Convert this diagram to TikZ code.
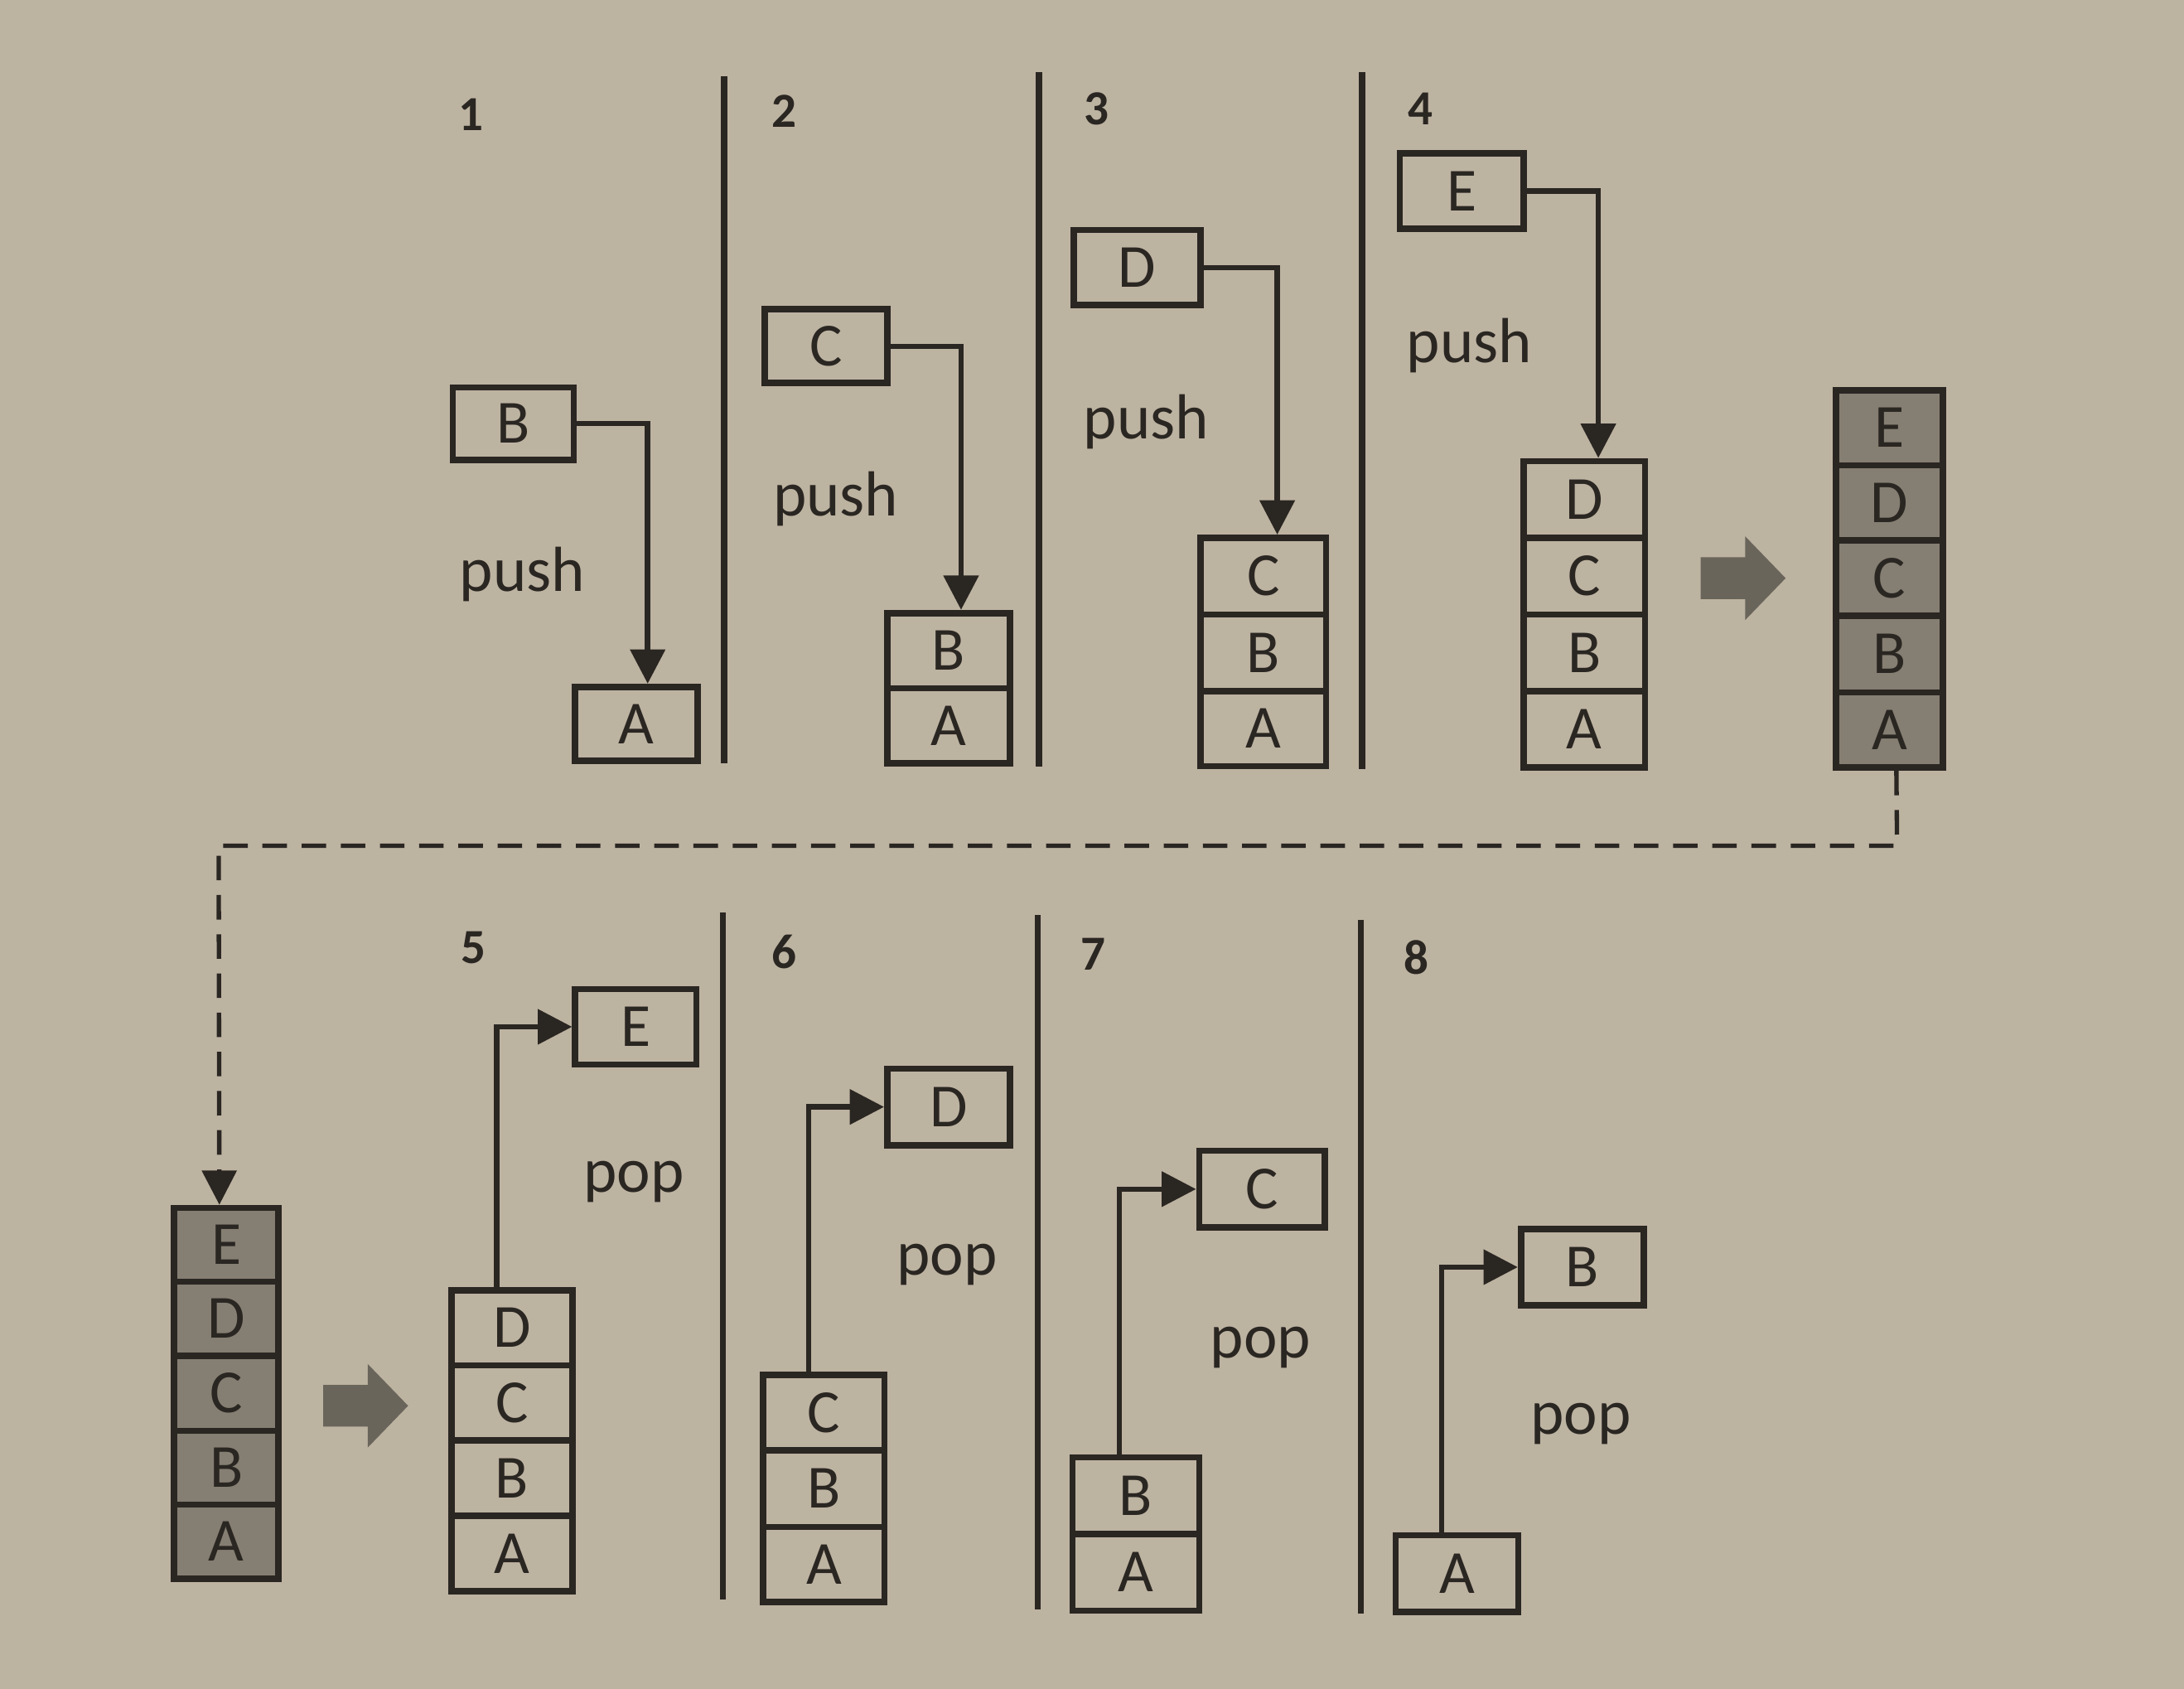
\documentclass[tikz,border=0pt]{standalone}
\usepackage{fontspec}
\setmainfont{Carlito}
\usetikzlibrary{arrows.meta}
\definecolor{bg}{HTML}{BDB3A1}
\definecolor{ink}{HTML}{2A2622}
\definecolor{gfill}{HTML}{857E72}
\tikzset{
 bx/.style={draw=ink,line width=1.3pt,inner sep=0pt,font=\fontsize{12.5}{12.5}\selectfont,text=ink},
 gbx/.style={bx,fill=gfill},
 arr/.style={draw=ink,line width=1.1pt,-{Triangle[length=7pt,width=7pt]}},
 lbl/.style={font=\fontsize{13}{13}\selectfont,text=ink},
 num/.style={font=\bfseries\fontsize{10}{10}\selectfont,text=ink},
 divline/.style={draw=ink,line width=1.3pt},
 bigarr/.style={fill=gfill!80!black,draw=none}
}
\newcommand\bx[7][bx]{\node[#1,minimum width={(#4-#3)*0.01cm},minimum height={(#6-#5)*0.01cm}] (#2) at ({(#3+#4)/2},{(#5+#6)/2}) {#7};}
\newcommand\bigarrow[2]{\fill[bigarr] (#1,#2-15)--(#1+32,#2-15)--(#1+32,#2-30)--(#1+61,#2)--(#1+32,#2+30)--(#1+32,#2+15)--(#1,#2+15)--cycle;}
\begin{document}
\begin{tikzpicture}[x=0.01cm,y=-0.01cm]
\fill[bg] (0,0) rectangle (1568,1212);
\useasboundingbox (0,0) rectangle (1568,1212);
% dividers
\draw[divline] (520,55)--(520,548) (746,52)--(746,550) (978,52)--(978,552);
\draw[divline] (519,655)--(519,1148) (745,657)--(745,1155) (977,660)--(977,1158);
% panel 1
\node[num] (n1) at (338,82) {1};
\bx{p1B}{325}{412}{278}{330}{B}
\bx{p1A}{413}{501}{493}{546}{A}
\node[lbl] (l1) at (375,412) {push};
\draw[arr] (p1B.east) -| ([xshift=0.08cm]p1A.north);
% panel 2
\node[num] (n2) at (563,80) {2};
\bx{p2C}{549}{637}{222}{275}{C}
\bx{p2B}{637}{725}{440}{494}{B}
\bx{p2A}{637}{725}{494}{548}{A}
\node[lbl] (l2) at (600,358) {push};
\draw[arr] (p2C.east) -| ([xshift=0.09cm]p2B.north);
% panel 3
\node[num] (n3) at (787,78) {3};
\bx{p3D}{771}{862}{165}{219}{D}
\bx{p3C}{862}{952}{386}{441}{C}
\bx{p3B}{862}{952}{441}{496}{B}
\bx{p3A}{862}{952}{496}{550}{A}
\node[lbl] (l3) at (823,303) {push};
\draw[arr] (p3D.east) -| ([xshift=0.1cm]p3C.north);
% panel 4
\node[num] (n4) at (1020,78) {4};
\bx{p4E}{1005}{1094}{110}{164}{E}
\bx{p4D}{1094}{1181}{331}{386}{D}
\bx{p4C}{1094}{1181}{386}{441}{C}
\bx{p4B}{1094}{1181}{441}{496}{B}
\bx{p4A}{1094}{1181}{496}{551}{A}
\node[lbl] (l4) at (1055,248) {push};
\draw[arr] (p4E.east) -| ([xshift=0.1cm]p4D.north);
\bigarrow{1221}{415}
% gray stack 1
\bx[gbx]{g1E}{1318}{1395}{280}{334}{E}
\bx[gbx]{g1D}{1318}{1395}{334}{388}{D}
\bx[gbx]{g1C}{1318}{1395}{388}{442}{C}
\bx[gbx]{g1B}{1318}{1395}{442}{497}{B}
\bx[gbx]{g1A}{1318}{1395}{497}{551}{A}
% gray stack 2
\bx[gbx]{g2E}{125}{200}{867}{920}{E}
\bx[gbx]{g2D}{125}{200}{920}{973}{D}
\bx[gbx]{g2C}{125}{200}{973}{1027}{C}
\bx[gbx]{g2B}{125}{200}{1027}{1080}{B}
\bx[gbx]{g2A}{125}{200}{1080}{1133}{A}
\coordinate (dR) at (1362,607);
\coordinate (dL) at (157,607);
\draw[arr,dash pattern=on 5pt off 3pt,line width=0.9pt] ([xshift=0.05cm]g1A.south) -- (dR) -- (dL) -- ([xshift=-0.05cm]g2E.north);
\bigarrow{232}{1009}
% panel 5
\node[num] (n5) at (340,680) {5};
\bx{p5E}{413}{500}{710}{764}{E}
\bx{p5D}{324}{411}{926}{980}{D}
\bx{p5C}{324}{411}{980}{1034}{C}
\bx{p5B}{324}{411}{1034}{1088}{B}
\bx{p5A}{324}{411}{1088}{1142}{A}
\node[lbl] (l5) at (455,848) {pop};
\draw[arr] ([xshift=-0.11cm]p5D.north) |- (p5E.west);
% panel 6
\node[num] (n6) at (563,683) {6};
\bx{p6D}{637}{725}{767}{822}{D}
\bx{p6C}{548}{635}{987}{1041}{C}
\bx{p6B}{548}{635}{1041}{1096}{B}
\bx{p6A}{548}{635}{1096}{1150}{A}
\node[lbl] (l6) at (680,908) {pop};
\draw[arr] ([xshift=-0.11cm]p6C.north) |- (p6D.west);
% panel 7
\node[num] (n7) at (785,685) {7};
\bx{p7C}{861}{951}{826}{881}{C}
\bx{p7B}{770}{861}{1046}{1101}{B}
\bx{p7A}{770}{861}{1101}{1156}{A}
\node[lbl] (l7) at (905,967) {pop};
\draw[arr] ([xshift=-0.12cm]p7B.north) |- (p7C.west);
% panel 8
\node[num] (n8) at (1017,687) {8};
\bx{p8B}{1092}{1180}{882}{937}{B}
\bx{p8A}{1002}{1090}{1102}{1157}{A}
\node[lbl] (l8) at (1135,1022) {pop};
\draw[arr] ([xshift=-0.11cm]p8A.north) |- (p8B.west);
\end{tikzpicture}
\end{document}
